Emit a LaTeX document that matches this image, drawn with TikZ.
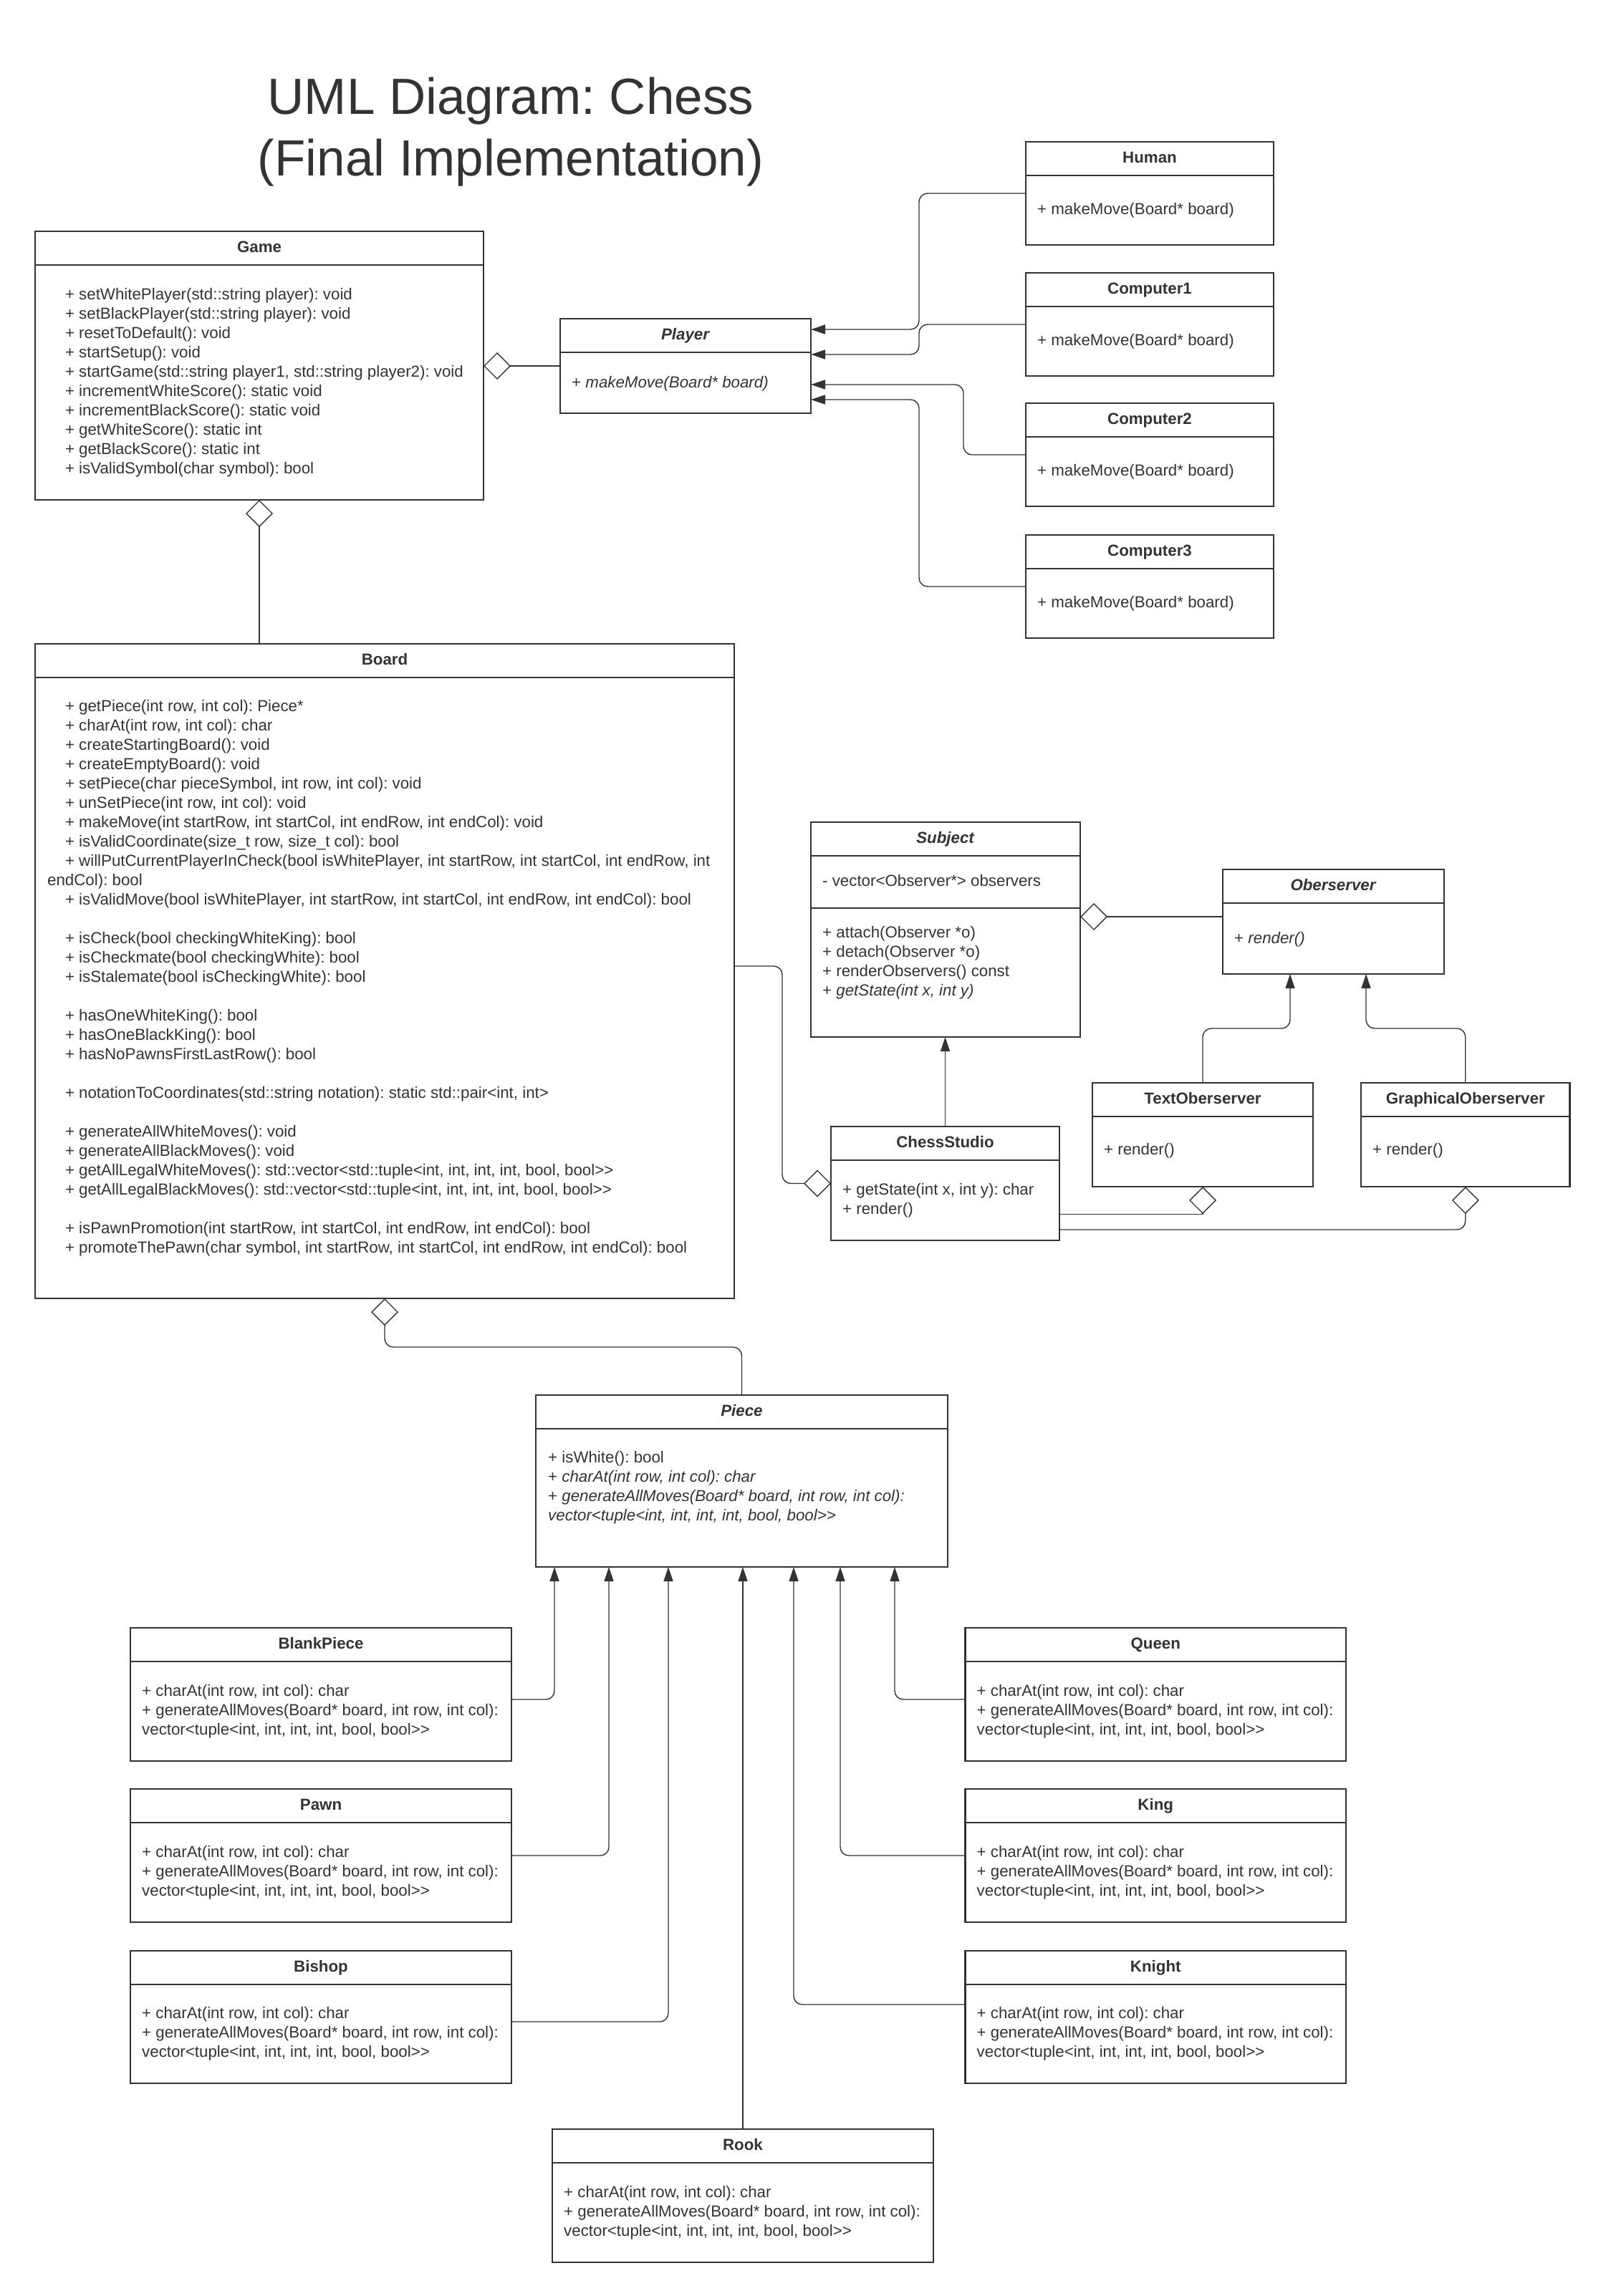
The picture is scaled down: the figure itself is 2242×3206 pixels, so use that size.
\documentclass[tikz,border=0pt]{standalone}
\usepackage{fontspec}
\newfontfamily\lsans{Liberation Sans}
\usetikzlibrary{arrows.meta}
\definecolor{ink}{HTML}{333333}
\newcommand{\ind}{\hspace*{24.8pt}}
\frenchspacing
\tikzset{
  clsbox/.style={draw=ink, line width=2.6pt, rectangle, inner sep=0pt, outer sep=0pt},
  sepline/.style={draw=ink, line width=2.6pt},
  ttl/.style={font=\lsans\bfseries\fontsize{22.3}{27}\selectfont, text=ink, inner sep=0pt},
  body/.style={font=\lsans\fontsize{22.3}{27}\selectfont, text=ink, inner sep=0pt, align=left, anchor=north west},
  conn/.style={draw=ink, line width=1.4pt, rounded corners=12pt},
  inh/.style={conn, -{Triangle[length=20pt,width=13pt]}},
  agg/.style={conn, -{Diamond[open,length=38pt,width=38pt]}},
}
% name, left, top, width, height, title
\newcommand{\umlcls}[6]{%
  \node[clsbox, minimum width=#4pt, minimum height=#5pt, anchor=north west] (#1) at (#2,#3) {};
  \draw[sepline] ([yshift=-47pt]#1.north west) -- ([yshift=-47pt]#1.north east);
  \node[ttl, anchor=base] (#1-title) at ([yshift=-29pt]#1.north) {#6};
}
\begin{document}
\frenchspacing
\begin{tikzpicture}[x=1pt,y=-1pt]
\fill[white] (0,0) rectangle (2242,3206);
\useasboundingbox (0,0) rectangle (2242,3206);

% title
\node[font=\lsans\fontsize{71}{86.7}\selectfont, text=ink, align=center, anchor=north, inner sep=0pt] (title) at (713,98.3)
  {\strut UML Diagram: Chess\\(Final Implementation)};

% Game
\umlcls{Game}{49}{323}{626}{375}{Game}
\node[body] (Game-b) at (90.8,399.2) {\strut + setWhitePlayer(std::string player): void\\
+ setBlackPlayer(std::string player): void\\
+ resetToDefault(): void\\
+ startSetup(): void\\
+ startGame(std::string player1, std::string player2): void\\
+ incrementWhiteScore(): static void\\
+ incrementBlackScore(): static void\\
+ getWhiteScore(): static int\\
+ getBlackScore(): static int\\
+ isValidSymbol(char symbol): bool};

% Player
\umlcls{Player}{782}{445}{350}{132}{\textit{Player}}
\node[body] (Player-b) at (798,522.2) {\strut + \textit{makeMove(Board* board)}};

% Human / Computers
\umlcls{Human}{1432}{198}{346}{144}{Human}
\node[body] (Human-b) at (1448,280.7) {\strut + makeMove(Board* board)};
\umlcls{Computer1}{1432}{381}{346}{144}{Computer1}
\node[body] (Computer1-b) at (1448,463.5) {\strut + makeMove(Board* board)};
\umlcls{Computer2}{1432}{563}{346}{144}{Computer2}
\node[body] (Computer2-b) at (1448,645.5) {\strut + makeMove(Board* board)};
\umlcls{Computer3}{1432}{747}{346}{144}{Computer3}
\node[body] (Computer3-b) at (1448,829.5) {\strut + makeMove(Board* board)};

% Board
\umlcls{Board}{49}{899}{976}{914}{Board}
\node[body] (Board-b) at (66,974.2) {\ind\strut + getPiece(int row, int col): Piece*\\
\ind + charAt(int row, int col): char\\
\ind + createStartingBoard(): void\\
\ind + createEmptyBoard(): void\\
\ind + setPiece(char pieceSymbol, int row, int col): void\\
\ind + unSetPiece(int row, int col): void\\
\ind + makeMove(int startRow, int startCol, int endRow, int endCol): void\\
\ind + isValidCoordinate(size\_t row, size\_t col): bool\\
\ind + willPutCurrentPlayerInCheck(bool isWhitePlayer, int startRow, int startCol, int endRow, int\\
endCol): bool\\
\ind + isValidMove(bool isWhitePlayer, int startRow, int startCol, int endRow, int endCol): bool\\
\strut\\
\ind + isCheck(bool checkingWhiteKing): bool\\
\ind + isCheckmate(bool checkingWhite): bool\\
\ind + isStalemate(bool isCheckingWhite): bool\\
\strut\\
\ind + hasOneWhiteKing(): bool\\
\ind + hasOneBlackKing(): bool\\
\ind + hasNoPawnsFirstLastRow(): bool\\
\strut\\
\ind + notationToCoordinates(std::string notation): static std::pair<int, int>\\
\strut\\
\ind + generateAllWhiteMoves(): void\\
\ind + generateAllBlackMoves(): void\\
\ind + getAllLegalWhiteMoves(): std::vector<std::tuple<int, int, int, int, bool, bool>>\\
\ind + getAllLegalBlackMoves(): std::vector<std::tuple<int, int, int, int, bool, bool>>\\
\strut\\
\ind + isPawnPromotion(int startRow, int startCol, int endRow, int endCol): bool\\
\ind + promoteThePawn(char symbol, int startRow, int startCol, int endRow, int endCol): bool};

% Subject
\umlcls{Subject}{1132}{1148}{376}{300}{\textit{Subject}}
\draw[sepline] (1132,1268) -- (1508,1268);
\node[body] (Subject-a) at (1148,1218.2) {\strut - vector<Observer*> observers};
\node[body] (Subject-b) at (1148,1290.2) {\strut + attach(Observer *o)\\
+ detach(Observer *o)\\
+ renderObservers() const\\
+ \textit{getState(int x, int y)}};

% Oberserver
\umlcls{Oberserver}{1707}{1214}{309}{146}{\textit{Oberserver}}
\node[body] (Oberserver-b) at (1723,1298.2) {\strut + \textit{render()}};

\umlcls{TextOberserver}{1525}{1512}{308}{145}{TextOberserver}
\node[body] (TextOberserver-b) at (1541,1593.7) {\strut + render()};
\umlcls{GraphicalOberserver}{1900}{1512}{291.5}{145}{GraphicalOberserver}
\node[body] (GraphicalOberserver-b) at (1916,1593.7) {\strut + render()};

% ChessStudio
\umlcls{ChessStudio}{1160}{1573}{319}{159}{ChessStudio}
\node[body] (ChessStudio-b) at (1176,1649.2) {\strut + getState(int x, int y): char\\
+ render()};

% Piece
\umlcls{Piece}{748}{1948}{575}{240}{\textit{Piece}}
\node[body] (Piece-b) at (765,2023.2) {\strut + isWhite(): bool\\
+ \textit{charAt(int row, int col): char}\\
+ \textit{generateAllMoves(Board* board, int row, int col):}\\
\textit{vector<tuple<int, int, int, int, bool, bool>>}};

% Piece subclasses
\umlcls{BlankPiece}{182}{2273}{532}{186}{BlankPiece}
\node[body] (BlankPiece-b) at (198,2349.2) {\strut + charAt(int row, int col): char\\
+ generateAllMoves(Board* board, int row, int col):\\
vector<tuple<int, int, int, int, bool, bool>>};
\umlcls{Pawn}{182}{2498}{532}{186}{Pawn}
\node[body] (Pawn-b) at (198,2574.2) {\strut + charAt(int row, int col): char\\
+ generateAllMoves(Board* board, int row, int col):\\
vector<tuple<int, int, int, int, bool, bool>>};
\umlcls{Bishop}{182}{2724}{532}{185}{Bishop}
\node[body] (Bishop-b) at (198,2799.2) {\strut + charAt(int row, int col): char\\
+ generateAllMoves(Board* board, int row, int col):\\
vector<tuple<int, int, int, int, bool, bool>>};
\umlcls{Queen}{1347.5}{2273}{531.5}{186}{Queen}
\node[body] (Queen-b) at (1363.5,2349.2) {\strut + charAt(int row, int col): char\\
+ generateAllMoves(Board* board, int row, int col):\\
vector<tuple<int, int, int, int, bool, bool>>};
\umlcls{King}{1347.5}{2498}{531.5}{186}{King}
\node[body] (King-b) at (1363.5,2574.2) {\strut + charAt(int row, int col): char\\
+ generateAllMoves(Board* board, int row, int col):\\
vector<tuple<int, int, int, int, bool, bool>>};
\umlcls{Knight}{1347.5}{2724}{531.5}{185}{Knight}
\node[body] (Knight-b) at (1363.5,2799.2) {\strut + charAt(int row, int col): char\\
+ generateAllMoves(Board* board, int row, int col):\\
vector<tuple<int, int, int, int, bool, bool>>};
\umlcls{Rook}{771}{2973}{532}{186}{Rook}
\node[body] (Rook-b) at (787,3049.2) {\strut + charAt(int row, int col): char\\
+ generateAllMoves(Board* board, int row, int col):\\
vector<tuple<int, int, int, int, bool, bool>>};

% ---------- connectors ----------
\draw[agg] (Player.west) -- (Player.west -| Game.east);
\draw[agg] (Board.north -| Game.south) -- (Game.south);

\draw[inh] (Human.west) -- ++(-149,0) |- ([yshift=51pt]Player.east);
\draw[inh] (Computer1.west) -- ++(-149,0) |- ([yshift=16pt]Player.east);
\draw[inh] (Computer2.west) -- ++(-87,0) |- ([yshift=-26pt]Player.east);
\draw[inh] (Computer3.west) -- ++(-149,0) |- ([yshift=-47pt]Player.east);

\draw[agg] ([yshift=7pt]Board.east) -- ++(67,0) |- (ChessStudio.west);
\draw[inh] (ChessStudio.north) -- (ChessStudio.north |- Subject.south);
\coordinate (obw) at ([yshift=7pt]Oberserver.west);
\draw[agg] (obw) -- (obw -| Subject.east);
\draw[inh] (TextOberserver.north) -- ++(0,-76) -| ([xshift=94pt]Oberserver.south west);
\draw[inh] (GraphicalOberserver.north) -- ++(0,-76) -| ([xshift=200pt]Oberserver.south west);
\coordinate (cs1) at ([yshift=-43pt]ChessStudio.east);
\draw[agg, sharp corners] (cs1) -- (cs1 -| TextOberserver.south) -- (TextOberserver.south);
\coordinate (cs2) at ([yshift=-64.5pt]ChessStudio.east);
\draw[agg] (cs2) -| (GraphicalOberserver.south);

\draw[agg] (Piece.north) -- ++(0,-67) -| (Board.south);
\draw[inh] ([yshift=-7pt]BlankPiece.east) -| ([xshift=26pt]Piece.south west);
\draw[inh] (Pawn.east) -| ([xshift=102pt]Piece.south west);
\draw[inh] ([yshift=-6.5pt]Bishop.east) -| ([xshift=185pt]Piece.south west);
\draw[inh] (Rook.north) -- (Rook.north |- Piece.south);
\draw[inh] ([yshift=-7pt]Queen.west) -| ([xshift=501pt]Piece.south west);
\draw[inh] (King.west) -| ([xshift=425pt]Piece.south west);
\draw[inh] ([yshift=17.5pt]Knight.west) -| ([xshift=360pt]Piece.south west);
\end{tikzpicture}
\end{document}
